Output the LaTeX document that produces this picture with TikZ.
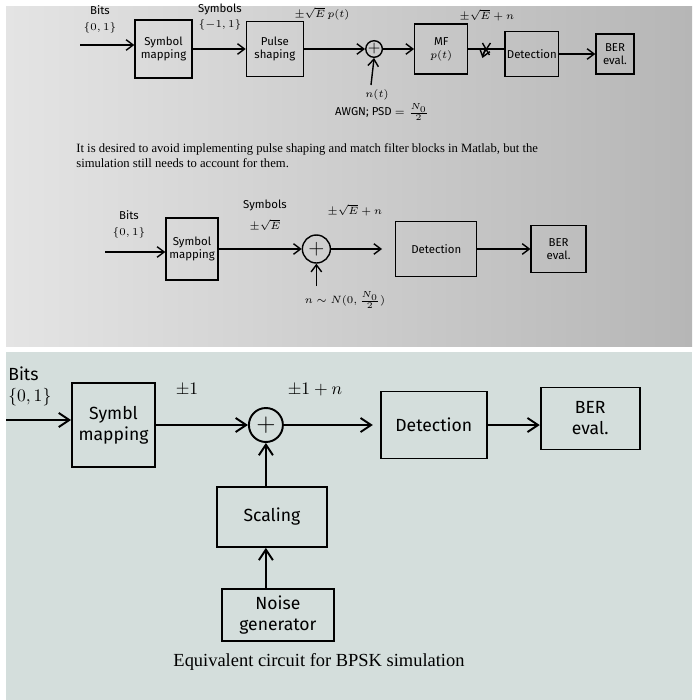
\documentclass[tikz,border=0pt]{standalone}
\usepackage{amsmath}
\usepackage{amssymb}
\usepackage{fontspec}
\setmainfont{Liberation Serif}
\newfontfamily\handfont{Fira Sans}
\usepackage{tikz}
\usetikzlibrary{positioning}
\usetikzlibrary{calc}
\usetikzlibrary{arrows.meta}

\definecolor{photogray}{RGB}{228,228,228}
\definecolor{photodark}{RGB}{182,182,182}
\definecolor{phototint}{RGB}{212,222,220}

\begin{document}
\begin{tikzpicture}[x=0.02cm, y=-0.02cm,
    blk/.style={draw, line width=0.8pt, rectangle, align=center, inner sep=1pt, font=\handfont\fontsize{6.5}{7.5}\selectfont},
    bigblk/.style={blk, line width=1.1pt, font=\handfont\fontsize{10}{12}\selectfont},
    sumnode/.style={draw, line width=0.8pt, circle, inner sep=0pt, font=\handfont\small},
    lbl/.style={align=center, inner sep=0pt, font=\handfont\fontsize{6.5}{9}\selectfont},
    biglbl/.style={lbl, font=\handfont\fontsize{10}{12}\selectfont},
    sig/.style={line width=0.8pt, -{Straight Barb[length=4pt, width=6pt]}},
    bigsig/.style={line width=1.1pt, -{Straight Barb[length=6pt, width=8pt]}}]

    \useasboundingbox (0,0) rectangle (700,700);
    \shade[left color=photogray, right color=photodark] (6,6) rectangle (692,346);
    \fill[phototint] (6,352) rectangle (692,700);

    % with pulse shaping and matched filter
    \node[blk, minimum width=1.14cm, minimum height=1.16cm] (smap1) at (163.5,49) {Symbol\\mapping};
    \node[blk, minimum width=1.14cm, minimum height=1.1cm, right=1.06cm of smap1] (pulse1) {Pulse\\shaping};
    \node[sumnode, minimum size=0.32cm, right=1.22cm of pulse1] (add1) {$+$};
    \node[blk, minimum width=1.06cm, minimum height=1cm, right=0.62cm of add1] (mf1) {MF\\$p(t)$};
    \node[blk, minimum width=0.98cm, minimum height=0.9cm, right=0.72cm of mf1, yshift=-0.1cm] (det1) {Detection};
    \node[blk, minimum width=0.76cm, minimum height=0.8cm, right=0.72cm of det1] (ber1) {BER\\eval.};

    \coordinate (in1) at (80,45);
    \coordinate (nz1) at (371,85);
    \coordinate (smp1) at ($(mf1.east)!0.5!(mf1.east -| det1.west)$);

    \node[lbl] (bits1) at (100,19) {Bits\\$\{0,1\}$};
    \node[lbl] (sym1) at (220,17) {Symbols\\$\{-1,1\}$};
    \node[lbl] (tx1) at (322,14) {$\pm\sqrt{E}\,p(t)$};
    \node[lbl] (rx1) at (487,15) {$\pm\sqrt{E}+n$};
    \node[lbl] (n1) at (377,95) {$n(t)$};
    \node[lbl] (awgn1) at (382,112) {AWGN; PSD $=\frac{N_0}{2}$};

    \draw[sig] (in1) -- (in1 -| smap1.west);
    \draw[sig] (smap1.east) -- (pulse1.west);
    \draw[sig] (pulse1.east) -- (add1.west);
    \draw[sig] (nz1) -- (add1.south);
    \draw[sig] (add1.east) -- (mf1.west);
    \draw[line width=0.8pt] (mf1.east) -- (mf1.east -| det1.west);
    \draw[line width=0.8pt] ($(smp1)+(-4,-6)$) -- ($(smp1)+(3,6)$);
    \draw[line width=0.8pt] ($(smp1)+(-4,6)$) -- ($(smp1)+(4,-6)$);
    \draw[sig] ($(smp1)+(-1,-1)$) -- ($(smp1)+(-4,9)$);
    \draw[sig] (det1.east) -- (ber1.west);

    \node[anchor=north west, align=left, inner sep=0pt, font=\fontsize{7.2}{8.5}\selectfont] (note) at (76,143)
        {It is desired to avoid implementing pulse shaping and match filter blocks in Matlab, but the\\simulation still needs to account for them.};

    % equivalent model with symbols scaled by sqrt(E)
    \node[blk, minimum width=1.04cm, minimum height=1.24cm] (smap2) at (192,249) {Symbol\\mapping};
    \node[sumnode, minimum size=0.56cm, right=1.66cm of smap2, font=\handfont\large] (add2) {$+$};
    \node[blk, minimum width=1.62cm, minimum height=1.1cm, right=1.28cm of add2] (det2) {Detection};
    \node[blk, minimum width=1.1cm, minimum height=0.94cm, right=1.06cm of det2] (ber2) {BER\\eval.};

    \coordinate (in2) at (105,252);
    \coordinate (nz2) at (314,286);

    \node[lbl] (bits2) at (129,224) {Bits\\$\{0,1\}$};
    \node[lbl] (sym2) at (265,205) {Symbols};
    \node[lbl, below=0.16cm of sym2] (symval2) {$\pm\sqrt{E}$};
    \node[lbl] (rx2) at (355,210) {$\pm\sqrt{E}+n$};
    \node[lbl] (n2) at (345,300) {$n\sim N(0,\frac{N_0}{2})$};

    \draw[sig] (in2) -- (in2 -| smap2.west);
    \draw[sig] (smap2.east) -- (add2.west);
    \draw[sig] (nz2 -| add2) -- (add2.south);
    \draw[sig, shorten >=0.26cm] (add2.east) -- (det2.west);
    \draw[sig] (det2.east) -- (ber2.west);

    % BPSK simulation model
    \begin{scope}
    \clip (6,352) rectangle (692,700);

    \node[bigblk, minimum width=1.66cm, minimum height=1.68cm] (smap3) at (113.5,425) {Symbl\\mapping};
    \node[sumnode, line width=1.1pt, minimum size=0.68cm, right=1.84cm of smap3, font=\handfont\Large] (add3) {$+$};
    \node[bigblk, minimum width=2.12cm, minimum height=1.34cm, right=1.92cm of add3] (det3) {Detection};
    \node[bigblk, minimum width=1.98cm, minimum height=1.24cm, right=1.04cm of det3, yshift=0.13cm] (ber3) {BER\\eval.};
    \node[bigblk, minimum width=2.2cm, minimum height=1.2cm, below=0.86cm of add3, xshift=0.12cm] (scale3) {Scaling};
    \node[bigblk, minimum width=2.24cm, minimum height=1.04cm, below=0.8cm of scale3, xshift=0.12cm] (noise3) {Noise\\generator};

    \coordinate (in3) at (5,420);

    \node[biglbl, anchor=west, align=left] (bits3) at (8,386) {Bits\\$\{0,1\}$};
    \node[biglbl] (tx3) at (187,390) {$\pm1$};
    \node[biglbl] (rx3) at (315,390) {$\pm1+n$};

    \draw[bigsig] (in3) -- (in3 -| smap3.west);
    \draw[bigsig] (smap3.east) -- (add3.west);
    \draw[bigsig, shorten >=0.14cm] (add3.east) -- (det3.west);
    \draw[bigsig] (det3.east) -- (det3.east -| ber3.west);
    \draw[bigsig] (scale3.north -| add3) -- (add3.south);
    \draw[bigsig] (noise3.north -| add3) -- (scale3.south -| add3);
    \end{scope}

    \node[font=\fontsize{10.5}{12}\selectfont] (cap) at (319,662) {Equivalent circuit for BPSK simulation};

\end{tikzpicture}
\end{document}
